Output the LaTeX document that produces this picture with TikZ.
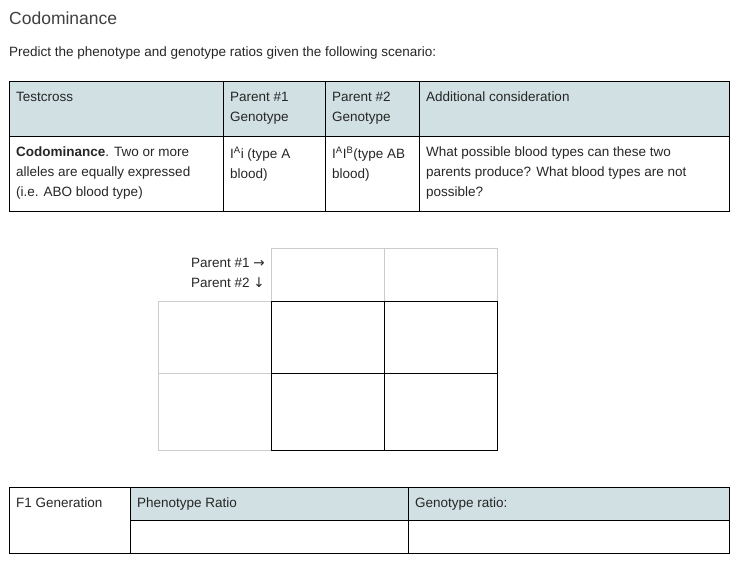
\documentclass[tikz,border=0pt]{standalone}
\usepackage{fontspec}
\setmainfont{Liberation Sans}
\newfontfamily\arrowfont{DejaVu Sans}
\begin{document}
\begin{tikzpicture}[x=1pt,y=-1pt,
  txt/.style={anchor=north west,inner sep=0pt,align=left,font=\fontsize{13.5}{20}\selectfont,text=black!85},
  hdr/.style={fill={rgb,255:red,209;green,224;blue,227},draw=black,line width=0.8pt},
  cell/.style={draw=black,line width=0.8pt},
  gcell/.style={draw=black!20,line width=0.8pt},
  bcell/.style={draw=black,line width=1pt}]
\useasboundingbox (0,0) rectangle (751,572);
\node[anchor=west,inner sep=0pt,font=\fontsize{17.5}{20}\selectfont,text=black!75] (title) at (9,18) {Codominance};
\node[anchor=west,inner sep=0pt,font=\fontsize{13.5}{16}\selectfont,text=black!85] (sub) at (9,53) {Predict the phenotype and genotype ratios given the following scenario:};
% table 1
\path[hdr] (9,81) rectangle (729,136);
\draw[cell] (9,136) rectangle (729,211);
\foreach \x in {223,325,419} \draw[cell] (\x,81) -- (\x,211);
\node[txt] (a1) at (16,92) {Testcross};
\node[txt] (a2) at (230,92) {Parent \#1\\Genotype};
\node[txt] (a3) at (332,92) {Parent \#2\\Genotype};
\node[txt] (a4) at (426,92) {Additional consideration};
\node[txt] (b1) at (16,147) {\textbf{Codominance}. Two or more\\alleles are equally expressed\\(i.e. ABO blood type)};
\node[txt] (b2) at (230,147) {I\textsuperscript{A}i (type A\\blood)};
\node[txt] (b3) at (332,147) {I\textsuperscript{A}I\textsuperscript{B}(type AB\\blood)};
\node[txt] (b4) at (426,147) {What possible blood types can these two\\parents produce? What blood types are not\\possible?};
% punnett
\draw[gcell] (271,248) rectangle (384,301) (384,248) rectangle (497,301);
\draw[gcell] (158,301) rectangle (271,373) (158,373) rectangle (271,450);
\draw[bcell] (271,301) rectangle (497,450);
\draw[bcell] (384,301) -- (384,450) (271,373) -- (497,373);
\node[anchor=north east,inner sep=0pt,align=right,font=\fontsize{13.5}{20}\selectfont,text=black!85] (lab) at (265,258) {Parent \#1 {\arrowfont →}\\Parent \#2 {\arrowfont ↓}};
% bottom table
\path[hdr] (130,487) rectangle (729,520);
\draw[cell] (9,487) rectangle (729,553);
\draw[cell] (130,487) -- (130,553) (408,487) -- (408,553) (130,520) -- (729,520);
\node[txt] (c1) at (16,498) {F1 Generation};
\node[txt] (c2) at (137,498) {Phenotype Ratio};
\node[txt] (c3) at (415,498) {Genotype ratio:};
\end{tikzpicture}
\end{document}
